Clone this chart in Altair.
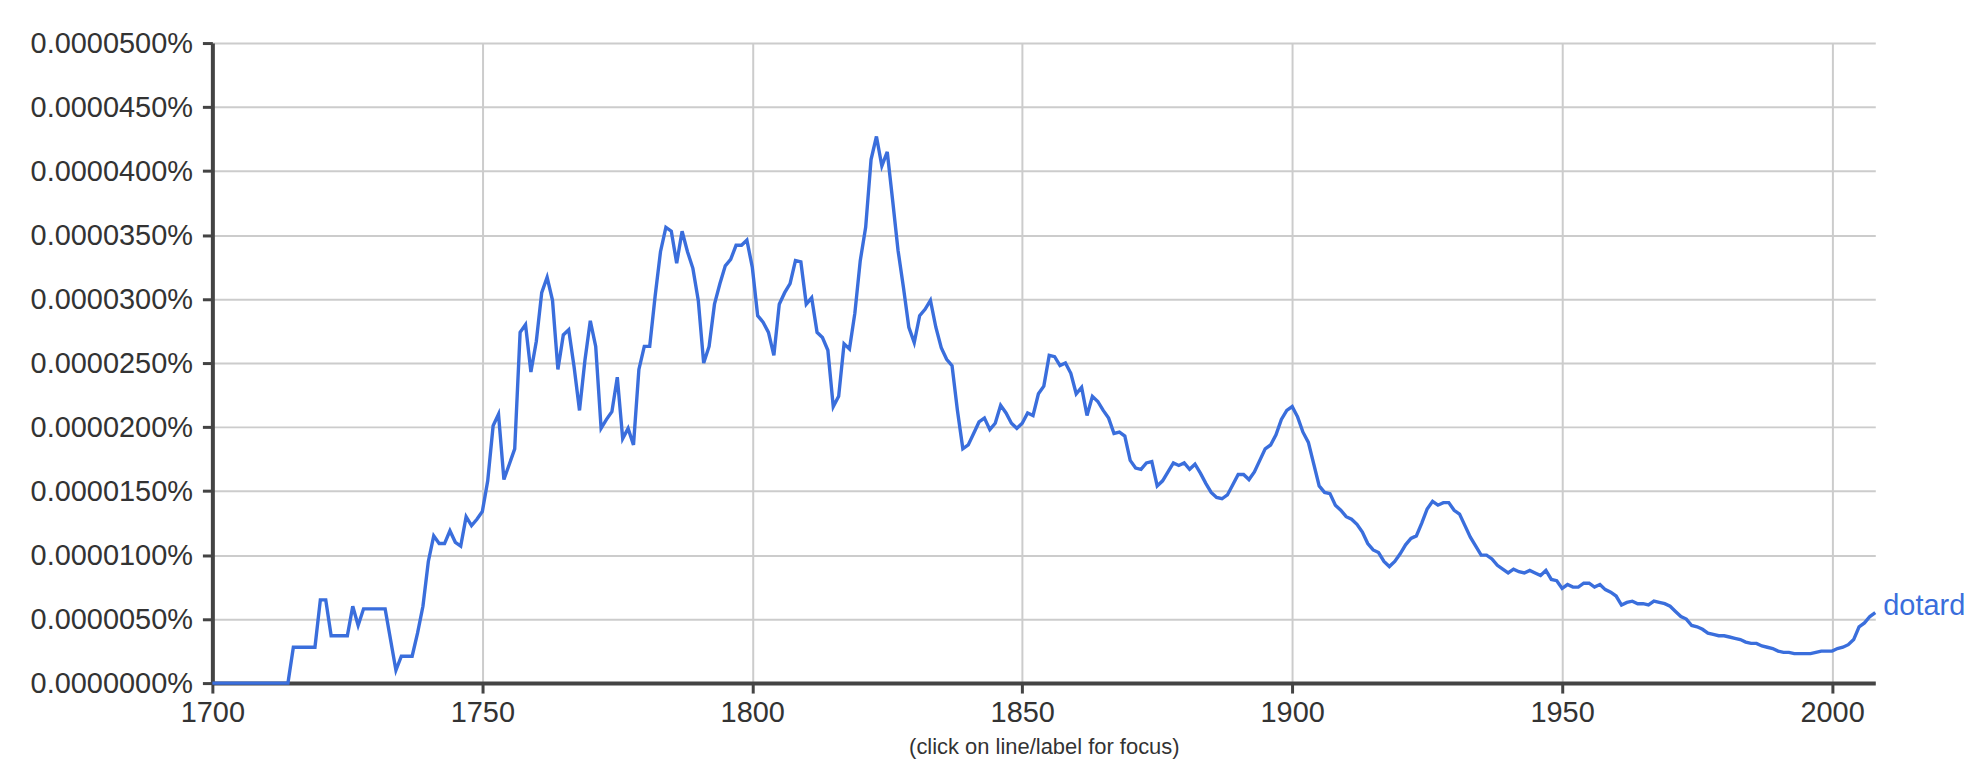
import altair as alt
import pandas as pd

# Values are in units of 0.000001 % (so 50 == 0.0000500%)
years = [
    1700, 1714, 1715, 1719, 1720, 1721, 1722, 1725, 1726, 1727, 1728, 1732, 1734, 1735, 1737,
    1738, 1739, 1740, 1741, 1742, 1743, 1744, 1745, 1746, 1747, 1748, 1749, 1750, 1751, 1752,
    1753, 1754, 1755, 1756, 1757, 1758, 1759, 1760, 1761, 1762, 1763, 1764, 1765, 1766, 1767,
    1768, 1769, 1770, 1771, 1772, 1773, 1774, 1775, 1776, 1777, 1778, 1779, 1780, 1781, 1782,
    1783, 1784, 1785, 1786, 1787, 1788, 1789, 1790, 1791, 1792, 1793, 1794, 1795, 1796, 1797,
    1798, 1799, 1800, 1801, 1802, 1803, 1804, 1805, 1806, 1807, 1808, 1809, 1810, 1811, 1812,
    1813, 1814, 1815, 1816, 1817, 1818, 1819, 1820, 1821, 1822, 1823, 1824, 1825, 1826, 1827,
    1828, 1829, 1830, 1831, 1832, 1833, 1834, 1835, 1836, 1837, 1838, 1839, 1840, 1841, 1842,
    1843, 1844, 1845, 1846, 1847, 1848, 1849, 1850, 1851, 1852, 1853, 1854, 1855, 1856, 1857,
    1858, 1859, 1860, 1861, 1862, 1863, 1864, 1865, 1866, 1867, 1868, 1869, 1870, 1871, 1872,
    1873, 1874, 1875, 1876, 1877, 1878, 1879, 1880, 1881, 1882, 1883, 1884, 1885, 1886, 1887,
    1888, 1889, 1890, 1891, 1892, 1893, 1894, 1895, 1896, 1897, 1898, 1899, 1900, 1901, 1902,
    1903, 1904, 1905, 1906, 1907, 1908, 1909, 1910, 1911, 1912, 1913, 1914, 1915, 1916, 1917,
    1918, 1919, 1920, 1921, 1922, 1923, 1924, 1925, 1926, 1927, 1928, 1929, 1930, 1931, 1932,
    1933, 1934, 1935, 1936, 1937, 1938, 1939, 1940, 1941, 1942, 1943, 1944, 1945, 1946, 1947,
    1948, 1949, 1950, 1951, 1952, 1953, 1954, 1955, 1956, 1957, 1958, 1959, 1960, 1961, 1962,
    1963, 1964, 1965, 1966, 1967, 1968, 1969, 1970, 1971, 1972, 1973, 1974, 1975, 1976, 1977,
    1978, 1979, 1980, 1981, 1982, 1983, 1984, 1985, 1986, 1987, 1988, 1989, 1990, 1991, 1992,
    1993, 1994, 1995, 1996, 1997, 1998, 1999, 2000, 2001, 2002, 2003, 2004, 2005, 2006, 2007,
    2008,
]

values = [
    0.0, 0.0, 2.8, 2.8, 6.5, 6.5, 3.7, 3.7, 6.0, 4.5, 5.8, 5.8, 1.0, 2.1, 2.1,
    3.9, 6.0, 9.5, 11.5, 10.9, 10.9, 11.9, 11.0, 10.7, 13.0, 12.3, 12.8, 13.4, 15.8, 20.1,
    21.0, 15.9, 17.1, 18.3, 27.4, 28.0, 24.3, 26.7, 30.5, 31.7, 29.9, 24.5, 27.2, 27.6, 24.7,
    21.3, 25.2, 28.3, 26.3, 19.9, 20.6, 21.2, 23.9, 19.1, 19.9, 18.6, 24.5, 26.3, 26.3, 30.2,
    33.7, 35.6, 35.3, 32.8, 35.3, 33.7, 32.4, 29.9, 25.0, 26.3, 29.6, 31.2, 32.6, 33.1, 34.2,
    34.2, 34.6, 32.5, 28.7, 28.2, 27.4, 25.6, 29.6, 30.5, 31.2, 33.0, 32.9, 29.6, 30.1, 27.4,
    27.0, 26.0, 21.6, 22.4, 26.5, 26.1, 28.9, 33.0, 35.6, 40.9, 42.7, 40.4, 41.5, 37.7, 33.8,
    30.9, 27.8, 26.6, 28.7, 29.2, 29.9, 27.8, 26.2, 25.3, 24.8, 21.3, 18.3, 18.6, 19.5, 20.4,
    20.7, 19.8, 20.3, 21.7, 21.1, 20.3, 19.9, 20.3, 21.1, 20.9, 22.6, 23.2, 25.6, 25.5, 24.8,
    25.0, 24.2, 22.6, 23.1, 20.9, 22.4, 22.0, 21.3, 20.7, 19.5, 19.6, 19.3, 17.4, 16.8, 16.7,
    17.2, 17.3, 15.4, 15.8, 16.5, 17.2, 17.0, 17.2, 16.7, 17.1, 16.4, 15.6, 14.9, 14.5, 14.4,
    14.7, 15.5, 16.3, 16.3, 15.9, 16.5, 17.4, 18.3, 18.6, 19.4, 20.6, 21.3, 21.6, 20.8, 19.6,
    18.8, 17.1, 15.4, 14.9, 14.8, 13.9, 13.5, 13.0, 12.8, 12.4, 11.8, 10.9, 10.4, 10.2, 9.5,
    9.1, 9.5, 10.1, 10.8, 11.3, 11.5, 12.5, 13.6, 14.2, 13.9, 14.1, 14.1, 13.5, 13.2, 12.3,
    11.4, 10.7, 10.0, 10.0, 9.7, 9.2, 8.9, 8.6, 8.9, 8.7, 8.6, 8.8, 8.6, 8.4, 8.8,
    8.1, 8.0, 7.4, 7.7, 7.5, 7.5, 7.8, 7.8, 7.5, 7.7, 7.3, 7.1, 6.8, 6.1, 6.3,
    6.4, 6.2, 6.2, 6.1, 6.4, 6.3, 6.2, 6.0, 5.6, 5.2, 5.0, 4.5, 4.4, 4.2, 3.9,
    3.8, 3.7, 3.7, 3.6, 3.5, 3.4, 3.2, 3.1, 3.1, 2.9, 2.8, 2.7, 2.5, 2.4, 2.4,
    2.3, 2.3, 2.3, 2.3, 2.4, 2.5, 2.5, 2.5, 2.7, 2.8, 3.0, 3.4, 4.4, 4.7, 5.2,
    5.5,
]

series_name = "dotard"
x_ticks = [1700, 1750, 1800, 1850, 1900, 1950, 2000]
y_ticks = [0, 5, 10, 15, 20, 25, 30, 35, 40, 45, 50]
footer = "(click on line/label for focus)"

BLUE = "#3a6edc"
FONT = "Liberation Sans"

df = pd.DataFrame({"year": years, "value": values})
df_last = pd.DataFrame({"year": [years[-1]], "value": [values[-1]], "label": [series_name]})

x_enc = alt.X(
    "year:Q",
    scale=alt.Scale(domain=[1700, 2008], nice=False, zero=False),
    axis=alt.Axis(
        values=x_ticks,
        format="d",
        grid=True,
        gridColor="#cccccc",
        gridWidth=2,
        domainColor="#444444",
        domainWidth=4,
        tickColor="#444444",
        tickWidth=3,
        tickSize=10,
        labelFont=FONT,
        labelFontSize=29,
        labelColor="#333333",
        labelPadding=6,
        labelFlush=False,
        title=footer,
        titleFont=FONT,
        titleFontSize=22,
        titleFontWeight="normal",
        titleColor="#333333",
        titlePadding=9,
    ),
)

y_enc = alt.Y(
    "value:Q",
    scale=alt.Scale(domain=[0, 50], nice=False),
    axis=alt.Axis(
        values=y_ticks,
        labelExpr="format(datum.value / 1000000, '.7f') + '%'",
        grid=True,
        gridColor="#cccccc",
        gridWidth=2,
        domainColor="#444444",
        domainWidth=4,
        tickColor="#444444",
        tickWidth=3,
        tickSize=10,
        labelFont=FONT,
        labelFontSize=29,
        labelColor="#333333",
        labelPadding=10,
        labelFlush=False,
        title=None,
    ),
)

line = alt.Chart(df).mark_line(color=BLUE, strokeWidth=3.4).encode(x=x_enc, y=y_enc)

label = alt.Chart(df_last).mark_text(
    color=BLUE, font=FONT, fontSize=29, align="left", baseline="middle", dx=8, dy=-7
).encode(x="year:Q", y="value:Q", text="label:N")

chart = (
    alt.layer(line, label)
    .properties(
        width=1668,
        height=642,
        autosize="none",
        padding={"left": 205, "top": 34, "right": 89, "bottom": 80},
        background="white",
    )
    .configure_view(stroke=None)
)

chart.save("out.html", embed_options={"renderer": "svg", "actions": False})
